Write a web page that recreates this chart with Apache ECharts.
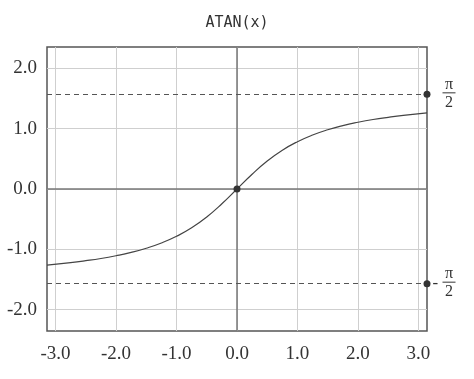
<!DOCTYPE html>
<html>
<head>
<meta charset="utf-8">
<script src="https://cdn.jsdelivr.net/npm/echarts@6/dist/echarts.min.js"></script>
<style>html,body{margin:0;padding:0;background:#fff}#c{width:474px;height:379px}</style>
</head>
<body>
<div id="c"></div>
<script>
const xTicks = [-3, -2, -1, 0, 1, 2, 3];
const yTicks = [-2, -1, 0, 1, 2];
const curveX = [-3.1416, -2.75, -2.5, -2.25, -2, -1.75, -1.5, -1.25, -1, -0.75, -0.5, -0.25, 0, 0.25, 0.5, 0.75, 1, 1.25, 1.5, 1.75, 2, 2.25, 2.5, 2.75, 3.1416];
const curveY = [-1.263, -1.222, -1.190, -1.153, -1.107, -1.052, -0.983, -0.896, -0.785, -0.644, -0.464, -0.245, 0, 0.245, 0.464, 0.644, 0.785, 0.896, 0.983, 1.052, 1.107, 1.153, 1.190, 1.222, 1.263];
const asymptotes = [1.5708, -1.5708];
const xRange = [-3.1416, 3.1416];
const yRange = [-2.3562, 2.3562];

const serif = '"Liberation Serif", "DejaVu Serif", serif';
const dark = '#333';

const fracRich = {
  n: { fontFamily: serif, fontSize: 16, color: dark, align: 'center', lineHeight: 13 },
  bar: { width: 13, height: 1, backgroundColor: dark, align: 'center', lineHeight: 4 },
  d: { fontFamily: serif, fontSize: 16, color: dark, align: 'center', lineHeight: 16 }
};

const chart = echarts.init(document.getElementById('c'));
chart.setOption({
  animation: false,
  title: {
    text: 'ATAN(x)', left: 'center', top: 11,
    textStyle: { fontFamily: '"DejaVu Sans Mono", monospace', fontSize: 15, fontWeight: 'normal', color: dark }
  },
  grid: { left: 47, right: 47, top: 47, bottom: 48, show: true, borderColor: '#555', borderWidth: 1.5, backgroundColor: 'transparent' },
  xAxis: {
    type: 'value', min: xRange[0], max: xRange[1],
    axisLine: { show: false }, axisTick: { show: false, customValues: xTicks },
    axisLabel: { customValues: xTicks, formatter: v => v.toFixed(1), fontFamily: serif, fontSize: 19, color: dark, margin: 14 },
    splitLine: { show: true, lineStyle: { color: '#cfcfcf', width: 1 } }
  },
  yAxis: {
    type: 'value', min: yRange[0], max: yRange[1],
    axisLine: { show: false }, axisTick: { show: false, customValues: yTicks },
    axisLabel: { customValues: yTicks, formatter: v => v.toFixed(1), fontFamily: serif, fontSize: 19, color: dark, margin: 10 },
    splitLine: { show: true, lineStyle: { color: '#cfcfcf', width: 1 } }
  },
  series: [
    {
      type: 'line', data: curveX.map((x, i) => [x, curveY[i]]), smooth: true, showSymbol: false,
      lineStyle: { color: '#444', width: 1.2 }, z: 3,
      markLine: {
        silent: true, symbol: 'none', label: { show: false },
        data: [
          { xAxis: 0, lineStyle: { color: '#777', width: 1.5, type: 'solid' } },
          { yAxis: 0, lineStyle: { color: '#777', width: 1.5, type: 'solid' } },
          { yAxis: asymptotes[0], lineStyle: { color: '#555', width: 1, type: [5, 4] } },
          { yAxis: asymptotes[1], lineStyle: { color: '#555', width: 1, type: [5, 4] } }
        ]
      }
    },
    {
      type: 'scatter', symbolSize: 7, itemStyle: { color: dark, opacity: 1 }, z: 5, clip: false,
      data: [
        { value: [0, 0] },
        { value: [xRange[1], asymptotes[0]], label: { show: true, position: 'right', distance: 12, formatter: '{n|π}\n{bar|}\n{d|2}', rich: fracRich } },
        { value: [xRange[1], asymptotes[1]], label: { show: true, position: 'right', distance: 12, formatter: '{n|π}\n{bar|}\n{d|2}', rich: fracRich } }
      ]
    },
    {
      type: 'scatter', symbolSize: 1, itemStyle: { color: 'rgba(0,0,0,0)', opacity: 1 }, z: 6, clip: false, silent: true,
      data: [
        { value: [xRange[1], asymptotes[1]], label: { show: true, position: 'right', distance: 5, formatter: '-', fontFamily: serif, fontSize: 17, color: dark } }
      ]
    }
  ]
});
</script>
</body>
</html>
